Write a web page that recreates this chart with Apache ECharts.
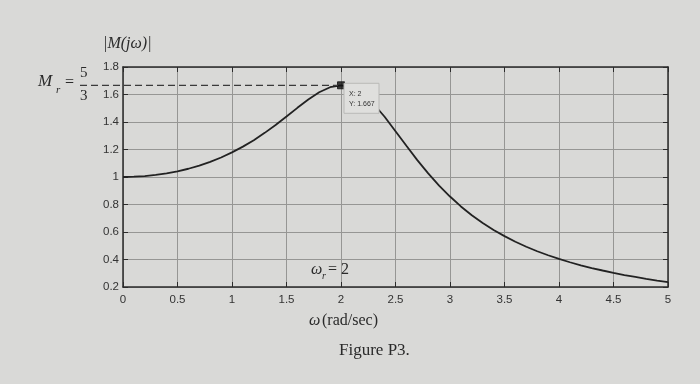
<!DOCTYPE html>
<html>
<head>
<meta charset="utf-8">
<script src="https://cdn.jsdelivr.net/npm/echarts/dist/echarts.min.js"></script>
<style>html,body{margin:0;padding:0;background:#d9d9d7}#c{width:700px;height:384px}</style>
</head>
<body>
<div id="c"></div>
<script>
// frequency (rad/sec)
const omega = [0,0.1,0.2,0.3,0.4,0.5,0.6,0.7,0.8,0.9,1.0,1.1,1.2,1.3,1.4,1.5,1.6,1.7,1.8,1.9,2.0,
  2.1,2.2,2.3,2.4,2.5,2.6,2.7,2.8,2.9,3.0,3.1,3.2,3.3,3.4,3.5,3.6,3.7,3.8,3.9,4.0,
  4.1,4.2,4.3,4.4,4.5,4.6,4.7,4.8,4.9,5.0];
// |M(jw)|
const magnitude = [1.000,1.002,1.006,1.015,1.026,1.041,1.060,1.083,1.110,1.142,1.179,1.221,1.268,1.321,1.378,1.440,1.503,1.563,1.616,1.653,1.667,
  1.651,1.605,1.531,1.438,1.333,1.227,1.123,1.026,0.937,0.858,0.786,0.722,0.665,0.615,0.570,0.529,0.493,0.460,0.431,0.404,
  0.380,0.358,0.338,0.320,0.303,0.287,0.273,0.259,0.247,0.236];
const xTicks = {min: 0, max: 5, step: 0.5};
const yTicks = {min: 0.2, max: 1.8, step: 0.2};
const peak = [2, 1.667];
const peakLabel = ['X: 2', 'Y: 1.667'];

const chart = echarts.init(document.getElementById('c'), null, {renderer: 'canvas'});
const frame = {show: true, onZero: false, lineStyle: {color: '#2b2b2b', width: 1.5}};
const tick = {show: true, inside: true, length: 5, lineStyle: {color: '#2b2b2b', width: 1}};
const lab = {color: '#333', fontFamily: 'Liberation Sans', fontSize: 11.5};
const split = {show: true, lineStyle: {color: '#969694', width: 1}};

chart.setOption({
  backgroundColor: '#d9d9d7',
  animation: false,
  grid: {left: 123, right: 32, top: 67, bottom: 97},
  xAxis: [
    {type: 'value', min: xTicks.min, max: xTicks.max, interval: xTicks.step, axisLine: frame, axisTick: tick,
     axisLabel: Object.assign({margin: 7}, lab), splitLine: split},
    {type: 'value', position: 'top', min: xTicks.min, max: xTicks.max, interval: xTicks.step, axisLine: frame, axisTick: tick,
     axisLabel: {show: false}, splitLine: {show: false}}
  ],
  yAxis: [
    {type: 'value', min: yTicks.min, max: yTicks.max, interval: yTicks.step, axisLine: frame, axisTick: tick,
     axisLabel: Object.assign({margin: 4}, lab), splitLine: split},
    {type: 'value', position: 'right', min: yTicks.min, max: yTicks.max, interval: yTicks.step, axisLine: frame, axisTick: tick,
     axisLabel: {show: false}, splitLine: {show: false}}
  ],
  series: [
    {type: 'line', xAxisIndex: 0, yAxisIndex: 0, showSymbol: false, smooth: false,
     lineStyle: {color: '#222', width: 1.8}, z: 3,
     data: omega.map((w, i) => [w, magnitude[i]])},
    {type: 'scatter', xAxisIndex: 0, yAxisIndex: 0, symbol: 'rect', symbolSize: 7, z: 6,
     itemStyle: {color: '#111', borderColor: '#111'},
     data: [peak]}
  ]
});

const p = chart.convertToPixel({gridIndex: 0}, peak);
chart.setOption({
  graphic: [
    {type: 'line', z: 100, shape: {x1: 80, y1: p[1], x2: p[0] - 3, y2: p[1]},
     style: {stroke: '#3a3a3a', lineWidth: 1.3, lineDash: [7, 4]}},
    {type: 'rect', z: 100, shape: {x: p[0] + 3, y: p[1] - 2, width: 35, height: 30},
     style: {fill: '#dfdfdd', stroke: '#b9b9b7', lineWidth: 1}},
    {type: 'text', z: 101, x: p[0] + 8, y: p[1] + 4,
     style: {text: peakLabel.join('\n'), font: '7px "Liberation Sans"', lineHeight: 10, fill: '#333'}},
    {type: 'text', left: 103, top: 36, style: {text: '|M(jω)|', font: 'italic 16px "Liberation Serif"', fill: '#2a2a2a'}},
    {type: 'text', left: 38, top: p[1] - 12, style: {text: 'M', font: 'italic 17px "Liberation Serif"', fill: '#2a2a2a'}},
    {type: 'text', left: 56, top: p[1] - 1, style: {text: 'r', font: 'italic 11px "Liberation Serif"', fill: '#2a2a2a'}},
    {type: 'text', left: 65, top: p[1] - 10, style: {text: '=', font: '16px "Liberation Serif"', fill: '#2a2a2a'}},
    {type: 'text', left: 80, top: p[1] - 20, style: {text: '5', font: '15px "Liberation Serif"', fill: '#2a2a2a'}},
    {type: 'text', left: 80, top: p[1] + 3, style: {text: '3', font: '15px "Liberation Serif"', fill: '#2a2a2a'}},
    {type: 'text', left: 311, top: 262, style: {text: 'ω', font: 'italic 16px "Liberation Serif"', fill: '#2a2a2a'}},
    {type: 'text', left: 322, top: 271, style: {text: 'r', font: 'italic 10px "Liberation Serif"', fill: '#2a2a2a'}},
    {type: 'text', left: 328, top: 262, style: {text: '= 2', font: '16px "Liberation Serif"', fill: '#2a2a2a'}},
    {type: 'text', left: 309, top: 313, style: {text: 'ω', font: 'italic 16px "Liberation Serif"', fill: '#2a2a2a'}},
    {type: 'text', left: 322, top: 313, style: {text: '(rad/sec)', font: '16px "Liberation Serif"', fill: '#2a2a2a'}},
    {type: 'text', left: 339, top: 342, style: {text: 'Figure P3.', font: '17px "Liberation Serif"', fill: '#2a2a2a'}}
  ]
});
</script>
</body>
</html>
